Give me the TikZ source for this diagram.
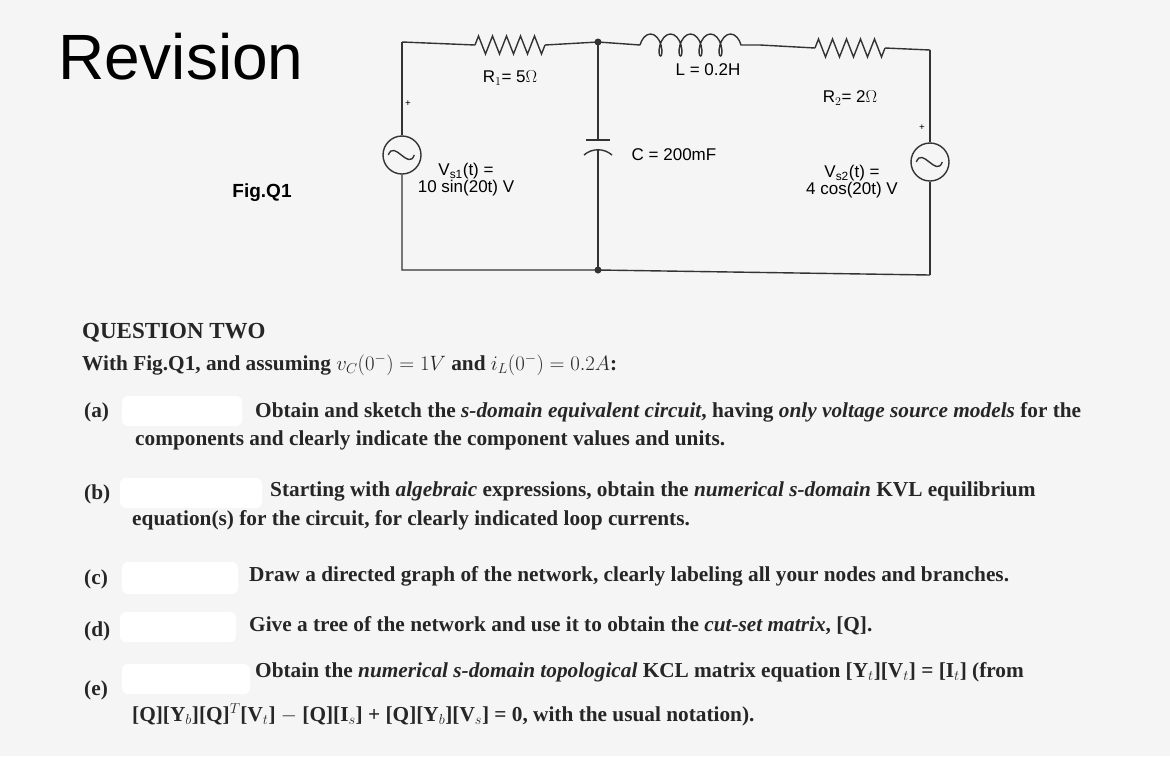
\documentclass[tikz,border=0pt]{standalone}
\usepackage{fontspec}
\setmainfont{Liberation Serif}
\newfontfamily\arial{Liberation Sans}
\usetikzlibrary{decorations.pathmorphing}
\tikzset{
 wire/.style={line width=1.4pt,black!80},
 res/.style={wire,decorate,decoration={zigzag,segment length=14pt,amplitude=9pt}},
 coil/.style={wire,decorate,decoration={coil,segment length=20pt,amplitude=11pt,aspect=0.5}},
 clab/.style={font=\arial\fontsize{17}{17}\selectfont,inner sep=1pt,align=center},
 qtxt/.style={anchor=base west,inner sep=0pt,font=\bfseries\fontsize{21.3}{22}\selectfont,text=black!85},
 blob/.style={fill=white,rounded corners=6pt},
}
\begin{document}
\begin{tikzpicture}[x=1pt,y=-1pt]
\fill[gray!8] (0,0) rectangle (1170,756);
\useasboundingbox (0,0) rectangle (1170,756);
\node[font=\arial\fontsize{64}{66}\selectfont,anchor=west,inner sep=0pt] (rev) at (58,57) {Revision};
\node[font=\arial\bfseries\fontsize{19}{20}\selectfont] (fig) at (262,193) {Fig.Q1};
% circuit
\coordinate (tl) at (402,42); \coordinate (tm) at (598,42); \coordinate (tr) at (930,50);
\coordinate (bl) at (402,270); \coordinate (bm) at (598,270); \coordinate (br) at (930,275);
\coordinate (r1a) at (475,45); \coordinate (r1b) at (545,45);
\coordinate (la) at (640,45); \coordinate (lb) at (760,45);
\coordinate (r2a) at (815,48); \coordinate (r2b) at (885,48);
\draw[wire] (tl) -- (r1a); \draw[res] (r1a) -- (r1b); \draw[wire] (r1b) -- (tm) -- (la);
\draw[coil] (la) -- (lb); \draw[wire] (lb) -- (r2a);
\draw[res] (r2a) -- (r2b); \draw[wire] (r2b) -- (tr);
\node[draw,wire,circle,minimum size=38pt,fill=gray!8] (s1) at (402,155) {};
\draw[wire] (tl) -- (s1.north); \draw[wire] (s1.south) -- (bl) -- (bm) -- (br);
\node[draw,wire,circle,minimum size=38pt,fill=gray!8] (s2) at (930,162) {};
\draw[wire] (tr) -- (s2.north); \draw[wire] (s2.south) -- (br);
\draw[wire] (s1.west) ++(6,0) .. controls +(6,-16) and +(-6,16) .. ++(26,0);
\draw[wire] (s2.west) ++(6,0) .. controls +(6,-16) and +(-6,16) .. ++(26,0);
\coordinate (c1) at (598,140); \coordinate (c2) at (598,150);
\draw[wire] (tm) -- (c1); \draw[wire] (c2) -- (bm);
\draw[wire] (586,140) -- (610,140);
\draw[wire] (584,155) .. controls (592,148) and (604,148) .. (612,155);
\fill[black!80] (tm) circle (3.5pt); \fill[black!80] (bm) circle (3.5pt);
\node[clab] (lr1) at (510,78) {R$_1$= 5$\Omega$};
\node[clab] (ll) at (708,70) {L = 0.2H};
\node[clab] (lr2) at (850,98) {R$_2$= 2$\Omega$};
\node[clab] (lc) at (674,155) {C = 200mF};
\node[clab] (lv1) at (466,180) {V\textsubscript{s1}(t) =\\10 sin(20t) V};
\node[clab] (lv2) at (852,182) {V\textsubscript{s2}(t) =\\4 cos(20t) V};
\node[font=\bfseries] (p1) at (408,104) {+};
\node[font=\bfseries] (p2) at (922,128) {+};
% question
\node[qtxt,font=\bfseries\fontsize{23}{24}\selectfont] (qt) at (82,338) {QUESTION TWO};
\node[qtxt] (q0) at (82,370) {With Fig.Q1, and assuming $v_C(0^-)=1V$ and $i_L(0^-)=0.2A$:};
\node[qtxt] (qa) at (84,417) {(a)};
\node[qtxt] (qa1) at (255,417) {Obtain and sketch the \textit{s-domain equivalent circuit}, having \textit{only voltage source models} for the};
\node[qtxt] (qa2) at (135,445) {components and clearly indicate the component values and units.};
\node[qtxt] (qb) at (84,499) {(b)};
\node[qtxt] (qb1) at (270,496) {Starting with \textit{algebraic} expressions, obtain the \textit{numerical s-domain} KVL equilibrium};
\node[qtxt] (qb2) at (132,525) {equation(s) for the circuit, for clearly indicated loop currents.};
\node[qtxt] (qc) at (84,584) {(c)};
\node[qtxt] (qc1) at (249,581) {Draw a directed graph of the network, clearly labeling all your nodes and branches.};
\node[qtxt] (qd) at (84,636) {(d)};
\node[qtxt] (qd1) at (249,631) {Give a tree of the network and use it to obtain the \textit{cut-set matrix}, [Q].};
\node[qtxt] (qe) at (84,695) {(e)};
\node[qtxt] (qe1) at (255,677) {Obtain the \textit{numerical s-domain topological} KCL matrix equation [Y$_t$][V$_t$] = [I$_t$] (from};
\node[qtxt] (qe2) at (132,721) {[Q][Y$_b$][Q]$^T$[V$_t$] $-$ [Q][I$_s$] + [Q][Y$_b$][V$_s$] = 0, with the usual notation).};
% redaction blobs
\fill[blob] (122,396) rectangle (242,426);
\fill[blob] (120,478) rectangle (262,508);
\fill[blob] (122,562) rectangle (238,594);
\fill[blob] (120,612) rectangle (236,642);
\fill[blob] (122,664) rectangle (250,694);
\end{tikzpicture}
\end{document}
